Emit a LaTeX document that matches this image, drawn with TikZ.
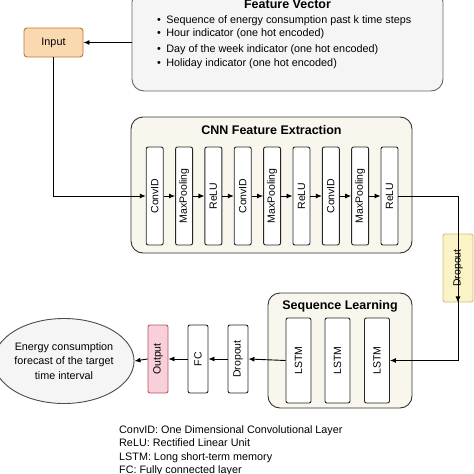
\documentclass[tikz,border=0pt]{standalone}
\usepackage{fontspec}
\setmainfont{Liberation Sans}
\usepackage{xcolor}
\usetikzlibrary{arrows.meta,positioning,shapes.geometric}
\definecolor{InOrange}{RGB}{250, 217, 176}
\definecolor{InBorder}{RGB}{190, 120, 55}
\definecolor{OutPink}{RGB}{248, 208, 218}
\definecolor{OutBorder}{RGB}{185, 85, 95}
\definecolor{DropYellow}{RGB}{250, 243, 200}
\definecolor{DropBorder}{RGB}{205, 190, 120}
\definecolor{GroupCream}{RGB}{249, 247, 237}
\definecolor{FeatGray}{RGB}{245, 245, 245}
\begin{document}
\begin{tikzpicture}[x=1pt, y=-1pt, >={Latex[length=6pt,width=5pt]},
  font=\fontsize{10.8}{13.5}\selectfont,
  grp/.style={draw=black!80, line width=0.9pt, rounded corners=12pt, fill=GroupCream},
  ttl/.style={font=\fontsize{12.5}{14}\selectfont\bfseries},
  lay/.style={draw=black!85, line width=0.9pt, rounded corners=2pt, fill=white, rotate=90,
              font=\fontsize{10.5}{12}\selectfont, inner sep=1pt},
  sig/.style={->, line width=0.9pt}]
  \useasboundingbox (0,0) rectangle (474,474);
  % inputs
  \node[draw=black!60, line width=0.9pt, rounded corners=12pt, fill=FeatGray,
        minimum width=311pt, minimum height=101pt] (feat) at (287.5,40.5) {};
  \node[ttl] (featttl) at (287.5,4) {Feature Vector};
  \node[anchor=north west, align=left, inner sep=0pt] (featlist) at (157,15)
    {\textbullet\enspace Sequence of energy consumption past k time steps\\
     \textbullet\enspace Hour indicator (one hot encoded)\\[2.5pt]
     \textbullet\enspace Day of the week indicator (one hot encoded)\\
     \textbullet\enspace Holiday indicator (one hot encoded)};
  \node[draw=InBorder, line width=0.9pt, rounded corners=3pt, fill=InOrange,
        minimum width=59pt, minimum height=29pt] (in) at (53.5,42.5) {Input};
  \draw[sig] (feat.west |- in.east) -- (in.east);
  % CNN block
  \node[grp, minimum width=281pt, minimum height=136pt] (cnn) at (271.5,185) {};
  \node[ttl] (cnnttl) at (271.5,130) {CNN Feature Extraction};
  \foreach \i/\t in {1/ConvID,2/MaxPooling,3/ReLU,4/ConvID,5/MaxPooling,6/ReLU,7/ConvID,8/MaxPooling,9/ReLU}
    \node[lay, minimum width=98pt, minimum height=17pt] (c\i) at ({154.7+29.35*(\i-1)},196) {\t};
  \foreach \i [evaluate=\i as \j using int(\i+1)] in {1,...,8}
    \draw[sig] (c\i.south) -- (c\j.north);
  \draw[sig] (in.south) |- (c1.north);
  \node[lay, draw=DropBorder, fill=DropYellow, minimum width=68pt, minimum height=30pt]
    (drop1) at (458,268) {Dropout};
  \draw[sig] (c9.south) -| (drop1.west);
  % sequence block
  \node[grp, minimum width=144pt, minimum height=115pt] (seq) at (340,350.5) {};
  \node[ttl] (seqttl) at (340,306) {Sequence Learning};
  \node[lay, minimum width=85pt, minimum height=25pt] (l1) at (298.5,360.5) {LSTM};
  \node[lay, minimum width=85pt, minimum height=25pt] (l2) at (337.5,360.5) {LSTM};
  \node[lay, minimum width=85pt, minimum height=25pt] (l3) at (377,360.5) {LSTM};
  \draw[sig] (drop1.east) |- (l3.south);
  % outputs
  \node[lay, minimum width=68pt, minimum height=20pt] (drop2) at (238,359) {Dropout};
  \node[lay, minimum width=68pt, minimum height=20pt] (fc) at (198,359) {FC};
  \node[lay, draw=OutBorder, fill=OutPink, minimum width=68pt, minimum height=20pt]
    (out) at (158,359) {Output};
  \node[ellipse, draw=black!70, line width=0.9pt, fill=FeatGray, minimum width=126pt,
        minimum height=85pt, inner sep=0pt, align=center] (fcst) at (64,361)
    {Energy consumption\\[1pt]forecast of the target\\[1pt]time interval};
  \draw[sig] (l1.north) -- (drop2.south);
  \draw[sig] (drop2.north) -- (fc.south);
  \draw[sig] (fc.north) -- (out.south);
  \draw[sig] (out.north) -- (fcst.east);
  % legend
  \node[anchor=north west, align=left, inner sep=0pt] (legend) at (119,425)
    {ConvID: One Dimensional Convolutional Layer\\
     ReLU: Rectified Linear Unit\\
     LSTM: Long short-term memory\\
     FC: Fully connected layer};
\end{tikzpicture}
\end{document}
